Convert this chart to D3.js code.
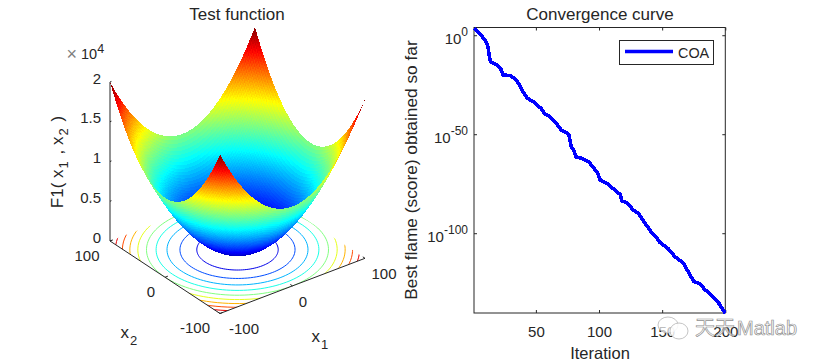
<!DOCTYPE html>
<html>
<head>
<meta charset="utf-8">
<script src="https://cdn.jsdelivr.net/npm/d3@7"></script>
<style>
  body { margin: 0; background: #fff; }
  text { font-family: "Liberation Sans", Arial, sans-serif; fill: #262626; }
</style>
</head>
<body>
<div id="chart"></div>
<script>
/* ------------------------------------------------------------- DATA: SURFACE */
// half profile of the F1 grid (step 2), mirrored below
const gridAbs = [100, 98, 96, 94, 92, 90, 88, 86, 84, 82, 80, 78, 76, 74, 72, 70, 68, 66, 64, 62, 60, 58, 56, 54, 52, 50, 48, 46, 44, 42, 40, 38, 36, 34, 32, 30, 28, 26, 24, 22, 20, 18, 16, 14, 12, 10, 8, 6, 4, 2, 0];
const gridSquares = [10000, 9604, 9216, 8836, 8464, 8100, 7744, 7396, 7056, 6724, 6400, 6084, 5776, 5476, 5184, 4900, 4624, 4356, 4096, 3844, 3600, 3364, 3136, 2916, 2704, 2500, 2304, 2116, 1936, 1764, 1600, 1444, 1296, 1156, 1024, 900, 784, 676, 576, 484, 400, 324, 256, 196, 144, 100, 64, 36, 16, 4, 0];
const contourLevels = [2000, 4000, 6000, 8000, 10000, 12000, 14000, 16000, 18000];
const zTicks = [0, 5000, 10000, 15000, 20000];
const zTickLabels = ["0", "0.5", "1", "1.5", "2"];
const floorTicks = [-100, 0, 100];

/* ------------------------------------------------------------- DATA: CURVE */
const iterations = [1, 6, 10, 12, 13, 14, 18, 22, 24, 30, 34, 37, 39, 41, 43, 48, 54, 57, 61, 66, 70, 76, 78, 80, 82, 86, 92, 96, 99, 101, 106, 115, 117, 118, 122, 127, 131, 135, 142, 145, 148, 155, 160, 167, 171, 175, 180, 184, 188, 194, 200];
const bestExponents = [3.5, 0.5, -2.7, -5.7, -9.9, -13.3, -14.6, -16.7, -20, -20.5, -22.2, -25.1, -27.9, -29.6, -31.8, -33.5, -36.9, -39.7, -41.1, -44.4, -47.8, -50, -56.2, -58.2, -61.6, -62.1, -64.1, -67.2, -69.7, -73.2, -74.7, -79.5, -80.6, -83.7, -84.5, -88.2, -89.9, -93.6, -100, -101.7, -104.5, -107.9, -111.8, -115.2, -119.9, -124.4, -125.6, -128.6, -130.6, -134.5, -140.4];
const xTicks = [50, 100, 150, 200];
const yTickExponents = [0, -50, -100];

const jetStops = [0, 0.125, 0.375, 0.625, 0.875, 1];
const jetColors = ["#000090", "#0000ff", "#00ffff", "#ffff00", "#ff0000", "#800000"];

const INK = "#262626";
const svg = d3.select("#chart").append("svg")
  .attr("width", 825)
  .attr("height", 363)
  .style("display", "block");

/* ------------------------------------------------------------- JET COLOURS */
const jet = d3.scaleLinear().domain(jetStops).range(jetColors).clamp(true);
const zColor = (z) => jet(z / 20000);

/* ------------------------------------------------------------- 3D PROJECTION */
// the corners of the floor fix where each axis goes on the screen
const front = [220, 313.5], left3d = [110, 241], right3d = [365, 258.3];
const xToPx = d3.scaleLinear().domain([-100, 100]).range([0, right3d[0] - front[0]]);
const xToPy = d3.scaleLinear().domain([-100, 100]).range([0, right3d[1] - front[1]]);
const yToPx = d3.scaleLinear().domain([-100, 100]).range([0, left3d[0] - front[0]]);
const yToPy = d3.scaleLinear().domain([-100, 100]).range([0, left3d[1] - front[1]]);
const zToPy = d3.scaleLinear().domain([0, 20000]).range([0, -159]);
const project = (x, y, z) => [
  front[0] + xToPx(x) + yToPx(y),
  front[1] + xToPy(x) + yToPy(y) + zToPy(z),
];
const polyLine = d3.line();

/* ------------------------------------------------------------- TEST FUNCTION: FLOOR */
const leftPanel = svg.append("g");

const defs = svg.append("defs");
defs.append("clipPath").attr("id", "floor-clip").append("path")
  .attr("d", polyLine([project(-100, -100, 0), project(100, -100, 0), project(100, 100, 0), project(-100, 100, 0)]) + "Z");

const angles = d3.range(0, 361, 3).map((d) => (d * Math.PI) / 180);
leftPanel.append("g")
  .attr("clip-path", "url(#floor-clip)")
  .selectAll("path")
  .data(contourLevels)
  .join("path")
  .attr("d", (lv) => polyLine(angles.map((a) => project(Math.sqrt(lv) * Math.cos(a), Math.sqrt(lv) * Math.sin(a), 0))))
  .attr("fill", "none")
  .attr("stroke", (lv) => zColor(lv))
  .attr("stroke-width", 1);

/* axes lines and ticks */
const axisG = leftPanel.append("g").attr("stroke", INK).attr("fill", "none").attr("stroke-width", 1);
const seg = (a, b) => axisG.append("path").attr("d", polyLine([a, b]));
seg(project(-100, -100, 0), project(100, -100, 0));
seg(project(-100, -100, 0), project(-100, 100, 0));
seg(project(-100, 100, 0), project(-100, 100, 20000));
floorTicks.forEach((t) => {
  seg(project(t, -100, 0), project(t, -96, 0));
  seg(project(-100, t, 0), project(-96, t, 0));
});
zTicks.forEach((t) => seg(project(-100, 100, t), project(-98, 100, t)));

/* ------------------------------------------------------------- TEST FUNCTION: SURFACE */
const gridX = gridAbs.map((d) => -d).concat(gridAbs.slice(0, -1).reverse());
const gridZ = gridSquares.concat(gridSquares.slice(0, -1).reverse());
const quads = [];
// back to front, the far corner is (100, 100)
for (let i = gridX.length - 2; i >= 0; i--) {
  for (let j = gridX.length - 2; j >= 0; j--) {
    quads.push({ i, j });
  }
}
const F1 = (i, j) => gridZ[i] + gridZ[j];
leftPanel.append("g")
  .attr("shape-rendering", "crispEdges")
  .selectAll("path")
  .data(quads)
  .join("path")
  .attr("d", ({ i, j }) => polyLine([
    project(gridX[i], gridX[j], F1(i, j)),
    project(gridX[i + 1], gridX[j], F1(i + 1, j)),
    project(gridX[i + 1], gridX[j + 1], F1(i + 1, j + 1)),
    project(gridX[i], gridX[j + 1], F1(i, j + 1)),
  ]) + "Z")
  .attr("fill", ({ i, j }) => zColor((F1(i, j) + F1(i + 1, j) + F1(i + 1, j + 1) + F1(i, j + 1)) / 4));

/* ------------------------------------------------------------- TEST FUNCTION: TEXT */
const TICK_FS = 15, LABEL_FS = 17;
const label = (x, y, txt, anchor = "middle", size = TICK_FS) =>
  svg.append("text").attr("x", x).attr("y", y).attr("text-anchor", anchor)
    .style("font-size", size + "px").text(txt);

label(237, 19.5, "Test function", "middle", LABEL_FS);

zTicks.forEach((t, k) => {
  label(101, project(-100, 100, t)[1] + 1.5, zTickLabels[k], "end");
});

const expo = label(66.5, 60, "×", "start", 18);
expo.style("fill", "#808080");
const expoText = svg.append("text").attr("x", 81).attr("y", 59).style("font-size", "14.5px");
expoText.append("tspan").text("10");
expoText.append("tspan").attr("dy", -6).style("font-size", "12.5px").text("4");

label(87, 261, "100");
label(151, 297, "0");
label(195, 333, "-100");
label(244, 334, "-100");
label(303, 307, "0");
label(384, 279, "100");

function subLabel(px, py, base, sub) {
  const t = svg.append("text").attr("x", px).attr("y", py).style("font-size", LABEL_FS + "px");
  t.append("tspan").text(base);
  t.append("tspan").attr("dy", 7).attr("dx", 1).style("font-size", "13px").text(sub);
}
subLabel(120.5, 337.5, "x", "2");
subLabel(311.5, 342, "x", "1");

const fLabel = svg.append("text")
  .attr("transform", "translate(63,162) rotate(-90)")
  .attr("text-anchor", "middle")
  .style("font-size", LABEL_FS + "px");
fLabel.append("tspan").text("F1( x");
fLabel.append("tspan").attr("dy", 5).attr("dx", 1).style("font-size", "13px").text("1");
fLabel.append("tspan").attr("dy", -5).attr("dx", 2).text(" , x");
fLabel.append("tspan").attr("dy", 5).attr("dx", 1).style("font-size", "13px").text("2");
fLabel.append("tspan").attr("dy", -5).attr("dx", 2).text(" )");

/* ------------------------------------------------------------- CONVERGENCE CURVE */
const m = { left: 474, right: 725.3, top: 27.5, bottom: 313 };
const x = d3.scaleLinear().domain([1, 200]).range([m.left, m.right]);
const y = d3.scaleLog().domain([Math.pow(10, 3.9), Math.pow(10, -140.3)]).range([m.top, m.bottom]);

const rightPanel = svg.append("g");
const axisLike = (g) => {
  g.select(".domain").remove();
  g.selectAll("line").attr("stroke", INK);
  g.selectAll("text").style("font-size", TICK_FS + "px").attr("fill", INK).attr("font-family", null);
};

rightPanel.append("g").attr("transform", `translate(0,${m.bottom})`)
  .call(d3.axisBottom(x).tickValues(xTicks).tickSize(-3).tickPadding(13).tickFormat(d3.format("d")))
  .call(axisLike);
rightPanel.append("g").attr("transform", `translate(0,${m.top})`)
  .call(d3.axisTop(x).tickValues(xTicks).tickSize(-3).tickFormat(""))
  .call(axisLike);
const yTickVals = yTickExponents.map((e) => Math.pow(10, e));
rightPanel.append("g").attr("transform", `translate(${m.left},0)`)
  .call(d3.axisLeft(y).tickValues(yTickVals).tickSize(-3).tickFormat(""))
  .call(axisLike);
rightPanel.append("g").attr("transform", `translate(${m.right},0)`)
  .call(d3.axisRight(y).tickValues(yTickVals).tickSize(-3).tickFormat(""))
  .call(axisLike);

rightPanel.append("rect")
  .attr("x", m.left).attr("y", m.top)
  .attr("width", m.right - m.left).attr("height", m.bottom - m.top)
  .attr("fill", "none").attr("stroke", INK);

yTickExponents.forEach((e) => {
  const t = svg.append("text").attr("x", 468).attr("y", y(Math.pow(10, e)) + 9)
    .attr("text-anchor", "end").style("font-size", TICK_FS + "px");
  t.append("tspan").text("10");
  t.append("tspan").attr("dy", -8).style("font-size", "12px").text(e);
});

const curve = d3.line().x((d) => x(d[0])).y((d) => y(Math.pow(10, d[1])));
rightPanel.append("path")
  .attr("d", curve(d3.zip(iterations, bestExponents)))
  .attr("fill", "none")
  .attr("stroke", "#0000ff")
  .attr("stroke-width", 3.6)
  .attr("shape-rendering", "crispEdges");

label(600, 19.5, "Convergence curve", "middle", LABEL_FS);
label(600, 358.5, "Iteration", "middle", 16.5);
svg.append("text")
  .attr("transform", "translate(416.5,170) rotate(-90)")
  .attr("text-anchor", "middle")
  .style("font-size", "17.3px")
  .text("Best flame (score) obtained so far");

/* legend */
rightPanel.append("rect")
  .attr("x", 619.5).attr("y", 40.5).attr("width", 94).attr("height", 24)
  .attr("fill", "#fff").attr("stroke", INK);
rightPanel.append("path")
  .attr("d", polyLine([[625, 51.5], [673, 51.5]]))
  .attr("stroke", "#0000ff").attr("stroke-width", 3.4);
label(678, 58, "COA", "start", 14.4);

/* ------------------------------------------------------------- WATERMARK */
const mark = svg.append("g").attr("stroke", "#b5b5b5").attr("stroke-width", 0.8);
mark.append("ellipse").attr("cx", 668).attr("cy", 325).attr("rx", 10).attr("ry", 8).attr("fill", "#fff").attr("fill-opacity", 0.7);
mark.append("ellipse").attr("cx", 679).attr("cy", 331).attr("rx", 9).attr("ry", 8).attr("fill", "#fff").attr("fill-opacity", 0.85);
svg.append("text")
  .attr("x", 695).attr("y", 335)
  .style("font-family", '"Noto Sans CJK SC", sans-serif')
  .style("font-size", "20px")
  .style("fill", "#fff").style("fill-opacity", 0.6)
  .attr("stroke", "#8f8f8f").attr("stroke-width", 0.7)
  .text("天天");
svg.append("text")
  .attr("x", 737).attr("y", 335)
  .style("font-size", "20px")
  .style("fill", "#fff").style("fill-opacity", 0.6)
  .attr("stroke", "#8f8f8f").attr("stroke-width", 0.7)
  .text("Matlab");
</script>
</body>
</html>
